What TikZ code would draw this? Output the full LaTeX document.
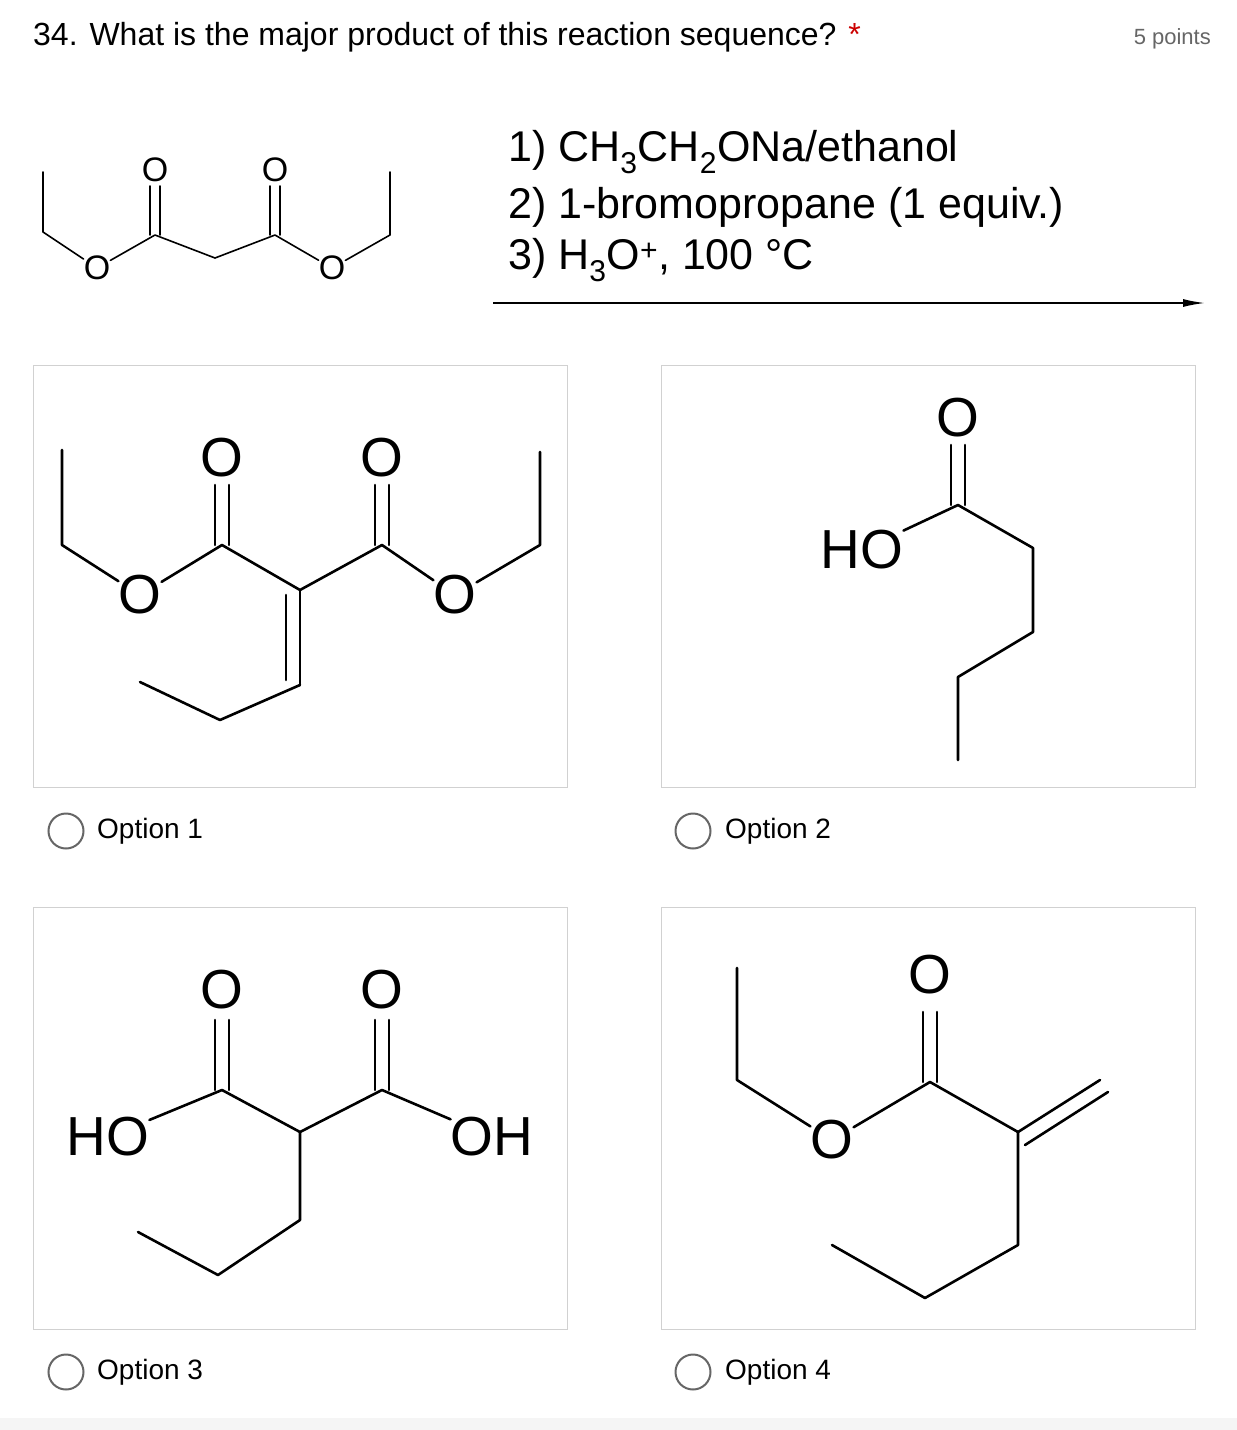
\documentclass[tikz,border=0pt]{standalone}
\usepackage{fontspec}
\setmainfont{Liberation Sans}
\usetikzlibrary{arrows.meta}
\begin{document}
\begin{tikzpicture}[x=1pt,y=-1pt,
  bond/.style={line width=2.6pt,line cap=round,line join=round},
  sbond/.style={line width=1.6pt,line cap=round,line join=round},
  card/.style={draw=black!18,line width=1pt,fill=white},
  radio/.style={draw=black!60,line width=2pt,circle,minimum size=35pt,inner sep=0pt},
  atom/.style={font=\fontsize{55}{55}\selectfont,inner sep=0pt},
  satom/.style={font=\fontsize{34}{34}\selectfont,inner sep=0pt},
  reag/.style={anchor=west,inner sep=0pt,font=\fontsize{43}{43}\selectfont},
  opt/.style={font=\fontsize{28}{28}\selectfont,anchor=west,inner sep=0pt}]
\useasboundingbox[fill=white] (0,0) rectangle (1237,1430);
\fill[black!4] (0,1418) rectangle (1237,1430);
\node[anchor=west,inner sep=0pt,font=\fontsize{32}{32}\selectfont] (title) at (33,37) {34. What is the major product of this reaction sequence? \textcolor{red!80!black}{*}};
\node[anchor=east,inner sep=0pt,font=\fontsize{22}{22}\selectfont,text=black!60] (pts) at (1211,39) {5 points};
% starting material
\node[satom] (o1) at (97,268) {O};
\node[satom] (o2) at (155,170) {O};
\node[satom] (o3) at (275,170) {O};
\node[satom] (o4) at (332,268) {O};
\draw[sbond] (43,172)--(43,232)--(o1);
\draw[sbond] (o1)--(155,235)--(215,258)--(275,235)--(o4);
\draw[sbond] (o4)--(390,235)--(390,172);
\draw[sbond] (150,235)--(150,186) (160,235)--(160,186);
\draw[sbond] (270,235)--(270,186) (280,235)--(280,186);
% reagents
\node[reag] (r1) at (508,152) {1) CH\textsubscript{3}CH\textsubscript{2}ONa/ethanol};
\node[reag] (r2) at (508,207) {2) 1-bromopropane (1 equiv.)};
\node[reag] (r3) at (508,260) {3) H\textsubscript{3}O\textsuperscript{+}, 100 °C};
\coordinate (a1) at (493,303); \coordinate (a2) at (1205,303);
\draw[line width=1.6pt,-{Latex[length=22pt,width=8pt]}] (a1)--(a2);
% cards
\draw[card] (33,365) rectangle (567,787);
\draw[card] (661,365) rectangle (1195,787);
\draw[card] (33,907) rectangle (567,1329);
\draw[card] (661,907) rectangle (1195,1329);
% option 1
\node[atom] (p1o1) at (140,595) {O};
\node[atom] (p1o2) at (222,458) {O};
\node[atom] (p1o3) at (382,458) {O};
\node[atom] (p1o4) at (455,595) {O};
\draw[bond] (62,450)--(62,545)--(p1o1);
\draw[bond] (p1o1)--(222,545)--(300,590)--(382,545)--(p1o4);
\draw[bond] (p1o4)--(540,545)--(540,452);
\draw[bond] (215,545)--(215,485) (229,545)--(229,485);
\draw[bond] (375,545)--(375,485) (389,545)--(389,485);
\draw[bond] (300,590)--(300,685) (286,595)--(286,680);
\draw[bond] (300,685)--(220,720)--(140,682);
% option 2
\node[atom] (p2o1) at (958,418) {O};
\node[atom] (p2ho) at (862,550) {HO};
\draw[bond] (951,505)--(951,445) (965,505)--(965,445);
\draw[bond] (p2ho)--(958,505)--(1033,548)--(1033,632)--(958,677)--(958,760);
% option 3
\node[atom] (p3o1) at (222,990) {O};
\node[atom] (p3o2) at (382,990) {O};
\node[atom] (p3ho) at (108,1137) {HO};
\node[atom] (p3oh) at (492,1137) {OH};
\draw[bond] (215,1090)--(215,1020) (229,1090)--(229,1020);
\draw[bond] (375,1090)--(375,1020) (389,1090)--(389,1020);
\draw[bond] (p3ho)--(222,1090)--(300,1132)--(382,1090)--(p3oh);
\draw[bond] (300,1132)--(300,1220)--(218,1275)--(138,1232);
% option 4
\node[atom] (p4o1) at (832,1140) {O};
\node[atom] (p4o2) at (930,975) {O};
\draw[bond] (737,968)--(737,1080)--(p4o1);
\draw[bond] (p4o1)--(930,1082)--(1018,1132);
\draw[bond] (923,1082)--(923,1012) (937,1082)--(937,1012);
\draw[bond] (1018,1132)--(1100,1080) (1025,1145)--(1108,1092);
\draw[bond] (1018,1132)--(1018,1245)--(925,1298)--(832,1245);
% radios
\node[radio] (c1) at (66,831) {}; \node[opt] (l1) at (97,831) {Option 1};
\node[radio] (c2) at (693,831) {}; \node[opt] (l2) at (725,831) {Option 2};
\node[radio] (c3) at (66,1372) {}; \node[opt] (l3) at (97,1372) {Option 3};
\node[radio] (c4) at (693,1372) {}; \node[opt] (l4) at (725,1372) {Option 4};
\end{tikzpicture}
\end{document}
